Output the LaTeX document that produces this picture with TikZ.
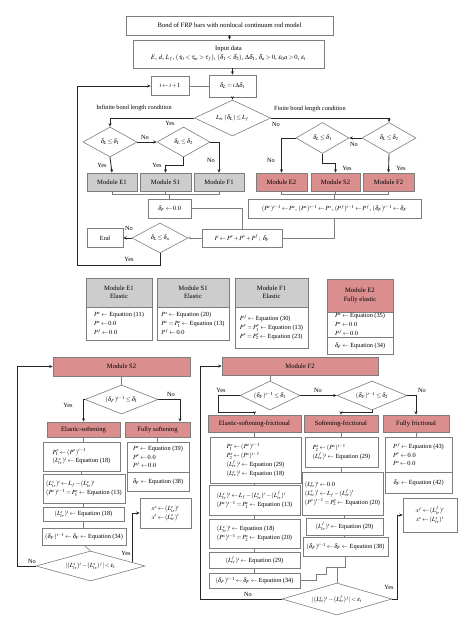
\documentclass[tikz,border=0pt]{standalone}
\usepackage{mathptmx}
\usepackage[no-math]{fontspec}
\setmainfont{Liberation Serif}
\usetikzlibrary{shapes.geometric,arrows.meta,calc}
\definecolor{pinkc}{RGB}{218,142,142}
\definecolor{grayc}{RGB}{205,205,205}
\definecolor{edgec}{RGB}{125,125,125}
\newcommand{\mathtight}{\thickmuskip=2.5mu\medmuskip=1.5mu\lineskip=1pt\lineskiplimit=1pt}
\newcommand{\myfs}{\fontsize{6.6}{8.4}\selectfont\mathtight}
\newcommand{\mybs}{\fontsize{6.3}{8.8}\selectfont\mathtight}
\newcommand{\myfsl}{\fontsize{6.3}{7.5}\selectfont}
\begin{document}
\begin{tikzpicture}[x=1pt,y=-1pt,
  bx/.style={draw=edgec,line width=0.6pt,fill=white,inner sep=1pt,align=center,font=\mybs},
  hx/.style={bx,font=\myfs},
  lb/.style={bx,align=left},
  gbx/.style={hx,fill=grayc},
  pbx/.style={hx,fill=pinkc},
  dia/.style={diamond,draw=edgec,line width=0.6pt,fill=white,inner sep=0pt,shape aspect=3,font=\mybs},
  arr/.style={draw=black!85,line width=0.85pt,-{Stealth[length=3.5pt,width=3pt]}},
  ln/.style={draw=edgec,line width=0.6pt},
  lab/.style={font=\myfsl,inner sep=0.5pt}]
\fill[white] (0,0) rectangle (474,632);
\useasboundingbox (0,0) rectangle (474,632);

% ---------------- top flowchart ----------------
\node[hx,minimum width=207pt,minimum height=19pt] (title) at (229.5,25.5) {Bond of FRP bars with nonlocal continuum rod model};
\node[hx,minimum width=191pt,minimum height=28pt] (input) at (228.5,54) {Input data\\[1pt] $E$, $d$, $L_f$, $(\tau_0<\tau_m>\tau_f)$, $(\delta_1<\delta_2)$, $\Delta\delta_1$, $\delta_u>0$, $\varepsilon_0 a>0$, $\varepsilon_t$};
\node[bx,minimum width=38pt,minimum height=19pt] (inc) at (170,86) {$i\leftarrow i+1$};
\node[bx,minimum width=47pt,minimum height=22pt] (del) at (232.5,86) {$\delta_L=i\,\Delta\delta_1$};
\node[dia,minimum width=76pt,minimum height=36pt] (md) at (232.5,118) {$L_{tr}\,(\delta_L)\le L_f$};
\node[dia,minimum width=54pt,minimum height=30pt] (d1) at (110,142) {$\delta_L\le\delta_1$};
\node[dia,minimum width=53pt,minimum height=30pt] (d2) at (183.5,142) {$\delta_L\le\delta_2$};
\node[dia,minimum width=53pt,minimum height=31pt] (d3) at (322.5,138) {$\delta_L\le\delta_1$};
\node[dia,minimum width=54pt,minimum height=31pt] (d4) at (389,138) {$\delta_L\le\delta_2$};
\node[gbx,minimum width=50pt,minimum height=18pt] (E1) at (112,182) {Module E1};
\node[gbx,minimum width=51pt,minimum height=18pt] (S1) at (165.5,182) {Module S1};
\node[gbx,minimum width=50pt,minimum height=18pt] (F1) at (219,182) {Module F1};
\node[pbx,minimum width=51pt,minimum height=18pt] (E2) at (281.5,182) {Module E2};
\node[pbx,minimum width=49pt,minimum height=18pt] (S2) at (335.5,182) {Module S2};
\node[pbx,minimum width=51pt,minimum height=18pt] (F2) at (388.5,182) {Module F2};
\node[bx,minimum width=43pt,minimum height=19pt] (dF) at (169.5,208.5) {$\delta_F\leftarrow 0.0$};
\node[bx,minimum width=173pt,minimum height=19pt] (prev) at (334.5,208.5) {$(P^e)^{i-1}\leftarrow P^e$, $(P^s)^{i-1}\leftarrow P^s$, $(P^f)^{i-1}\leftarrow P^f$, $(\delta_F)^{i-1}\leftarrow\delta_F$};
\node[bx,minimum width=80pt,minimum height=18pt] (Fb) at (242,238) {$F\leftarrow P^e+P^s+P^f;\ \delta_F$};
\node[dia,minimum width=56pt,minimum height=30pt] (du) at (160,238) {$\delta_L\le\delta_u$};
\node[bx,minimum width=36pt,minimum height=19pt] (End) at (105,238) {End};

\draw[arr] (title.south) -- (title.south |- input.north);
\draw[arr] (del.north |- input.south) -- (del.north);
\draw[ln] (inc.east) -- (del.west);
\draw[arr] (del.south) -- (md.north);
\draw[arr] (md.west) -| (d1.north);
\draw[arr] (md.east) -| (d4.north);
\draw[arr] (d1.east) -- (d2.west);
\draw[arr] (d1.south) -- (E1.north);
\draw[arr] (d2.south) -- (183.5,165) -| (S1.north);
\draw[arr] (d2.east) -| (F1.north);
\draw[arr] (d4.west) -- (d3.east);
\draw[arr] (d3.west) -| (E2.north);
\draw[arr] (d3.south) -- (322.5,163) -| (S2.north);
\draw[arr] (d4.south) -- (F2.north);
\node[lab] (t1) at (134,108) {Infinite bond length condition};
\node[lab] (t2) at (310,109) {Finite bond length condition};
\node[lab] (y0) at (170,123) {Yes};
\node[lab] (n0) at (276,124) {No};
\node[lab] (n1) at (145,137) {No};
\node[lab] (y1) at (102,165) {Yes};
\node[lab] (y2) at (157,165) {Yes};
\node[lab] (n2) at (211,160) {No};
\node[lab] (n3) at (354,144) {No};
\node[lab] (n4) at (271,160) {No};
\node[lab] (y3) at (347,168) {Yes};
\node[lab] (y4) at (401,168) {Yes};
% brackets
\draw[ln] (E1.south) -- (112,194) -- (219,194) -- (F1.south);
\draw[ln] (S1.south) -- (165.5,194);
\draw[ln] (dF.north) -- (169.5,194);
\draw[ln] (E2.south) -- (281.5,194) -- (388.5,194) -- (F2.south);
\draw[ln] (S2.south) -- (335.5,194);
\draw[ln] (prev.north) -- (334.5,194);
\draw[ln] (dF.east) -| (Fb.north);
\draw[ln] (prev.south) |- (Fb.east);
\draw[ln,-{Stealth[length=2.5pt,width=2.5pt]}] (Fb.west) -- (du.east);
\draw[arr] (du.west) -- (End.east);
\draw[arr] (du.south) -- (160,265) -- (77,265) |- (inc.west);
\node[lab] (n5) at (129,228) {No};
\node[lab] (y5) at (129,259) {Yes};

% ---------------- module definitions ----------------
\node[gbx,minimum width=66pt,minimum height=29pt] (hE1) at (119,292.5) {Module E1\\Elastic};
\node[lb,minimum width=66pt,minimum height=33pt] (bE1) at (119,323.5) {$P^e\leftarrow$ Equation (11)\\$P^s\leftarrow 0.0$\\$P^f\leftarrow 0.0$};
\node[gbx,minimum width=72pt,minimum height=29pt] (hS1) at (193,292.5) {Module S1\\Elastic};
\node[lb,minimum width=72pt,minimum height=33pt] (bS1) at (193,323.5) {$P^s\leftarrow$ Equation (20)\\$P^e=P^e_1\leftarrow$ Equation (13)\\$P^f\leftarrow 0.0$};
\node[gbx,minimum width=73pt,minimum height=29pt] (hF1) at (271.5,292.5) {Module F1\\Elastic};
\node[lb,minimum width=73pt,minimum height=41pt] (bF1) at (271.5,327.5) {$P^f\leftarrow$ Equation (30)\\$P^e=P^e_1\leftarrow$ Equation (13)\\$P^s=P^s_2\leftarrow$ Equation (23)};
\node[pbx,minimum width=66pt,minimum height=33pt] (hE2) at (360,295.5) {Module E2\\Fully elastic};
\node[lb,minimum width=66pt,minimum height=25pt] (bE2) at (360,324.5) {$P^e\leftarrow$ Equation (35)\\$P^s\leftarrow 0.0$\\$P^f\leftarrow 0.0$};
\node[lb,minimum width=66pt,minimum height=17pt] (cE2) at (360,345.5) {$\delta_F\leftarrow$ Equation (34)};

% ---------------- Module S2 ----------------
\node[pbx,minimum width=137pt,minimum height=19pt] (S2h) at (121.5,366.5) {Module S2};
\node[dia,minimum width=73pt,minimum height=29pt] (sd) at (121.5,399.5) {$(\delta_F)^{i-1}\le\delta_1$};
\node[pbx,minimum width=73pt,minimum height=15pt] (es) at (83.5,429.5) {Elastic-softening};
\node[pbx,minimum width=65pt,minimum height=15pt] (fs) at (157.5,429.5) {Fully softening};
\node[lb,minimum width=77pt,minimum height=29pt] (es1) at (81.5,456.5) {$P^e_1\leftarrow(P^e)^{i-1}$\\$(L^e_{tr})^i\leftarrow$ Equation (18)};
\node[lb,minimum width=82pt,minimum height=29pt] (es2) at (84,488.5) {$(L^s_{tr})^i\leftarrow L_f-(L^e_{tr})^i$\\$(P^e)^{i-1}=P^e_1\leftarrow$ Equation (13)};
\node[bx,minimum width=81pt,minimum height=14pt] (es3) at (83.5,514) {$(L^e_{tr})^i\leftarrow$ Equation (18)};
\node[bx,minimum width=84pt,minimum height=17pt] (es4) at (84,536.5) {$(\delta_F)^{i-1}\leftarrow\delta_F\leftarrow$ Equation (34)};
\node[lb,minimum width=62pt,minimum height=30pt] (fs1) at (158,457) {$P^s\leftarrow$ Equation (39)\\$P^e\leftarrow 0.0$\\$P^f\leftarrow 0.0$};
\node[lb,minimum width=62pt,minimum height=19pt] (fs2) at (158,481.5) {$\delta_F\leftarrow$ Equation (38)};
\node[bx,minimum width=51pt,minimum height=30pt] (xS) at (165.5,513) {$x^e\leftarrow(L^e_{tr})^i$\\$x^s\leftarrow(L^s_{tr})^i$};
\node[dia,minimum width=109pt,minimum height=30pt] (sdia) at (90.5,566) {$|(L^s_{tr})^i-(L^s_{tr})^j|<\varepsilon_t$};

\draw[ln] (S2h.south) -- (sd.north);
\draw[arr] (sd.west) -| (es.north);
\draw[arr] (sd.east) -| ($(fs.north)+(22.5,0)$);
\draw[ln] (es.south) -- (es.south |- es1.north);
\draw[ln] (es1.south) -- (es1.south |- es2.north);
\draw[ln] (es3.north |- es2.south) -- (es3.north);
\draw[ln] (es3.south) -- (es3.south |- es4.north);
\draw[ln] (es4.south) -- (sdia.north);
\draw[ln] (fs.south) -- (fs.south |- fs1.north);
\draw[arr] (sdia.west) -- (17,566) |- (S2h.west);
\coordinate (sy) at ($(sdia.north)!0.76!(sdia.east)$);
\draw[arr] (sy) |- (xS.west);
\node[lab] (y6) at (68,405) {Yes};
\node[lab] (n6) at (171,394) {No};
\node[lab] (n7) at (32,561) {No};
\node[lab] (y7) at (126,553) {Yes};

% ---------------- Module F2 ----------------
\node[pbx,minimum width=156pt,minimum height=18pt] (F2h) at (300,366) {Module F2};
\node[dia,minimum width=60pt,minimum height=29pt] (fd1) at (270,395.5) {$(\delta_F)^{i-1}\le\delta_1$};
\node[dia,minimum width=70pt,minimum height=29pt] (fd2) at (372,395.5) {$(\delta_F)^{i-1}\le\delta_2$};
\node[pbx,minimum width=93pt,minimum height=17pt] (esf) at (254.5,423.5) {Elastic-softening-frictional};
\node[pbx,minimum width=74pt,minimum height=17pt] (sf) at (341,423.5) {Softening-frictional};
\node[pbx,minimum width=66pt,minimum height=17pt] (ff) at (416,423.5) {Fully frictional};
\node[lb,minimum width=91pt,minimum height=46pt] (esf1) at (255.5,460) {$P^e_1\leftarrow(P^e)^{i-1}$\\$P^s_2\leftarrow(P^s)^{i-1}$\\$(L^f_{tr})^i\leftarrow$ Equation (29)\\$(L^e_{tr})^i\leftarrow$ Equation (18)};
\node[lb,minimum width=91pt,minimum height=30pt] (esf2) at (254.5,500) {$(L^s_{tr})^i\leftarrow L_f-(L^e_{tr})^i-(L^f_{tr})^i$\\$(P^e)^{i-1}=P^e_1\leftarrow$ Equation (13)};
\node[lb,minimum width=91pt,minimum height=29pt] (esf3) at (254.5,533.5) {$(L^e_{tr})^i\leftarrow$ Equation (18)\\$(P^s)^{i-1}=P^s_2\leftarrow$ Equation (20)};
\node[bx,minimum width=91pt,minimum height=16pt] (esf4) at (254.5,560) {$(L^f_{tr})^i\leftarrow$ Equation (29)};
\node[bx,minimum width=91pt,minimum height=15pt] (esf5) at (254.5,580.5) {$(\delta_F)^{i-1}\leftarrow\delta_F\leftarrow$ Equation (34)};
\node[lb,minimum width=73pt,minimum height=30pt] (sf1) at (341.5,452) {$P^s_2\leftarrow(P^s)^{i-1}$\\$(L^f_{tr})^i\leftarrow$ Equation (29)};
\node[lb,minimum width=81pt,minimum height=43pt] (sf2) at (342.5,493.5) {$(L^e_{tr})^i\leftarrow 0.0$\\$(L^s_{tr})^i\leftarrow L_f-(L^f_{tr})^i$\\$(P^s)^{i-1}=P^s_2\leftarrow$ Equation (20)};
\node[bx,minimum width=77pt,minimum height=17pt] (sf3) at (344.5,526.5) {$(L^f_{tr})^i\leftarrow$ Equation (29)};
\node[bx,minimum width=85pt,minimum height=19pt] (sf4) at (345.5,546.5) {$(\delta_F)^{i-1}\leftarrow\delta_F\leftarrow$ Equation (38)};
\node[lb,minimum width=67pt,minimum height=35pt] (ff1) at (418.5,454.5) {$P^f\leftarrow$ Equation (43)\\$P^e\leftarrow 0.0$\\$P^s\leftarrow 0.0$};
\node[lb,minimum width=67pt,minimum height=21pt] (ff2) at (418.5,482.5) {$\delta_F\leftarrow$ Equation (42)};
\node[bx,minimum width=54pt,minimum height=34pt] (xF) at (430,515) {$x^f\leftarrow(L^f_{tr})^i$\\$x^s\leftarrow(L^s_{tr})^i$};
\node[dia,minimum width=110pt,minimum height=32pt] (fdia) at (337,599) {$|(L^s_{tr})^i-(L^f_{tr})^j|<\varepsilon_t$};

\draw[ln] (fd1.north |- F2h.south) -- (fd1.north);
\draw[arr] (fd1.east) -- (fd2.west);
\draw[arr] (fd1.west) -- (218,395.5) -- (218,412) -| (esf.north);
\draw[arr] (fd2.south) -- (372,412) -| (sf.north);
\draw[arr] (fd2.east) -| (ff.north);
\draw[ln] (esf.south) -- (esf.south |- esf1.north);
\draw[ln] (esf2.north |- esf1.south) -- (esf2.north);
\draw[ln] (esf2.south) -- (esf3.north);
\draw[ln] (esf3.south) -- (esf4.north);
\draw[ln] (esf4.south) -- (esf5.north);
\draw[ln] (sf.south) -- (sf.south |- sf1.north);
\draw[ln] (sf1.south) -- (sf1.south |- sf2.north);
\draw[ln] (sf3.north |- sf2.south) -- (sf3.north);
\draw[ln] (sf3.south |- sf4.north) -- (sf3.south);
\draw[ln] (ff.south) -- (ff.south |- ff1.north);
\draw[ln] (esf5.east) -- (316,580.5) -- (316,574) -- (326,574) -- (326,567) -- (337,567) -- (fdia.north);
\draw[ln] (sf4.south) |- (337,567);
\draw[arr] (fdia.west) -- (200,599) |- (F2h.west);
\draw[arr] (fdia.east) -- (397,599) |- (xF.west);
\node[lab] (y8) at (221,390) {Yes};
\node[lab] (n8) at (318,390) {No};
\node[lab] (n9) at (422,390) {No};
\node[lab] (n10) at (248,594) {No};
\node[lab] (y9) at (389,587) {Yes};
\end{tikzpicture}
\end{document}
